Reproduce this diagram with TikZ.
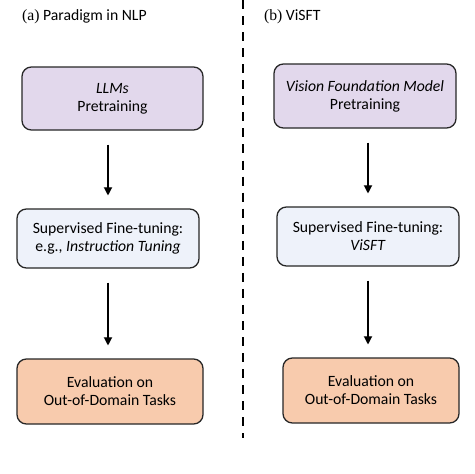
\documentclass[tikz,border=0pt]{standalone}
\usepackage{fontspec}
\setmainfont{Carlito}
\newfontfamily\serifparen{Liberation Serif}
\usepackage{tikz}
\usetikzlibrary{arrows.meta,positioning}
\definecolor{pretrain}{RGB}{226,216,236}
\definecolor{finetune}{RGB}{238,242,250}
\definecolor{evalbox}{RGB}{248,203,173}
\tikzset{
  stagebox/.style={draw=black!85,line width=1.1pt,rounded corners=8pt,align=center,
    font=\fontsize{13.4}{15.3}\selectfont,inner sep=0pt},
  flowarrow/.style={-{Triangle[length=7pt,width=7pt]},line width=1pt,shorten >=11pt,shorten <=12pt},
  titletext/.style={anchor=west,font=\fontsize{13.4}{15}\selectfont}
}
\begin{document}
\begin{tikzpicture}[x=0.03cm,y=-0.03cm]
\useasboundingbox (0,0) rectangle (474,474);
\draw[line width=1.7pt,dash pattern=on 7.7pt off 6pt] (243,0) -- (243,438);
\node[titletext] (ta) at (18,17) {{\serifparen(a)} Paradigm in NLP};
\node[titletext] (tb) at (260,17) {{\serifparen(b)} ViSFT};
\node[stagebox,fill=pretrain,minimum width=181*0.03cm,minimum height=63*0.03cm] (a1) at (112.5,98.5) {\textit{LLMs}\\Pretraining};
\node[stagebox,fill=finetune,minimum width=182*0.03cm,minimum height=59*0.03cm] (a2) at (108,238.5) {Supervised Fine-tuning:\\e.g., \textit{Instruction Tuning}};
\node[stagebox,fill=evalbox,minimum width=186*0.03cm,minimum height=65*0.03cm] (a3) at (110,391.5) {Evaluation on\\Out-of-Domain Tasks};
\node[stagebox,fill=pretrain,minimum width=182*0.03cm,minimum height=64*0.03cm] (b1) at (365,96) {\textit{Vision Foundation Model}\\Pretraining};
\node[stagebox,fill=finetune,minimum width=182*0.03cm,minimum height=59*0.03cm] (b2) at (368,236.5) {Supervised Fine-tuning:\\\textit{ViSFT}};
\node[stagebox,fill=evalbox,minimum width=176*0.03cm,minimum height=65*0.03cm] (b3) at (371,390.5) {Evaluation on\\Out-of-Domain Tasks};
\draw[flowarrow] (a1.south -| a2) -- (a2.north);
\draw[flowarrow] (a2.south) -- (a3.north -| a2);
\draw[flowarrow] (b1.south -| b2) -- (b2.north);
\draw[flowarrow] (b2.south) -- (b3.north -| b2);
\end{tikzpicture}
\end{document}
